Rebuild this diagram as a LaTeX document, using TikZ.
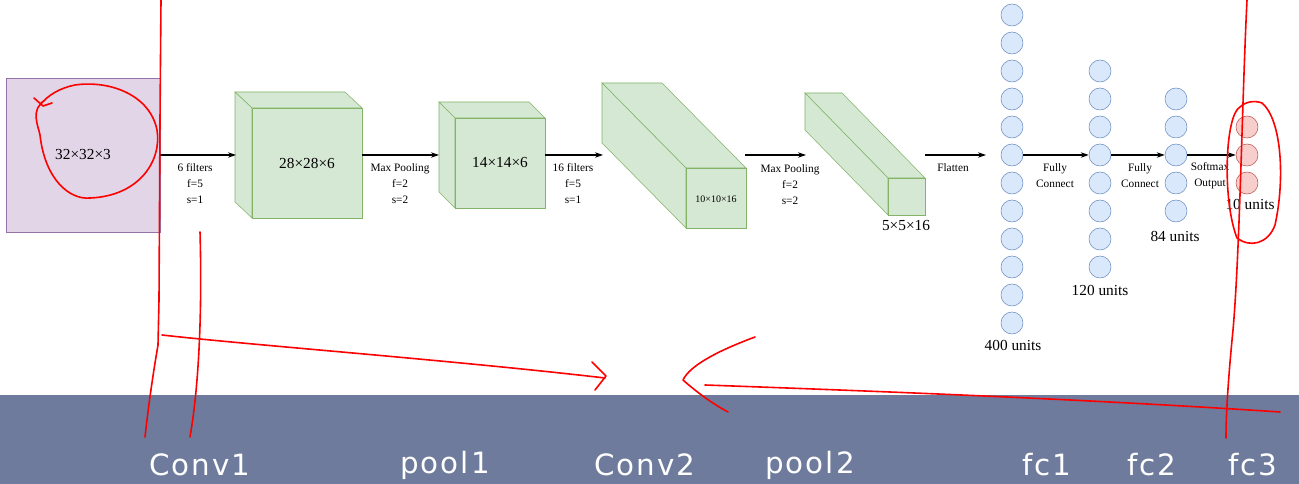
\documentclass[tikz,border=0pt]{standalone}
\usepackage{fontspec}
\setmainfont{Liberation Serif}
\newfontfamily\lblsans{DejaVu Sans}[LetterSpace=7]
\usetikzlibrary{arrows.meta}
\definecolor{gfill}{HTML}{D5E8D4}\definecolor{gdraw}{HTML}{82B366}
\definecolor{bfill}{HTML}{DAE8FC}\definecolor{bdraw}{HTML}{6C8EBF}
\definecolor{rfill}{HTML}{F8CECC}\definecolor{rdraw}{HTML}{B85450}
\definecolor{pfill}{HTML}{E1D5E7}\definecolor{pdraw}{HTML}{9673A6}
\definecolor{band}{HTML}{6E7B9C}
\newcommand\mybox[6]{% x1 y1 x2 y2 dx dy (front rect, back offset)
  \draw[gdraw,fill=gfill] (#1,#2) -- ++(-#5,-#6) -- (#3-#5,#2-#6) -- (#3,#2) -- cycle;
  \draw[gdraw,fill=gfill] (#1,#2) -- ++(-#5,-#6) -- (#1-#5,#4-#6) -- (#1,#4) -- cycle;
  \draw[gdraw,fill=gfill] (#1,#2) rectangle (#3,#4);}
\tikzset{
  arr/.style={-{Stealth[length=6pt,width=4pt]},line width=0.8pt},
  sm/.style={font=\fontsize{8.5}{9}\selectfont,align=center},
  md/.style={font=\fontsize{11.5}{12}\selectfont},
  unit/.style={circle,minimum size=16.5pt,inner sep=0pt,draw=bdraw,fill=bfill},
  outu/.style={circle,minimum size=16.5pt,inner sep=0pt,draw=rdraw,fill=rfill},
  bl/.style={font=\lblsans\fontsize{22}{24}\selectfont,text=white},
  pen/.style={red,line width=1.2pt,line cap=round,line join=round}
}
\begin{document}
\begin{tikzpicture}[x=0.75pt,y=-0.75pt]
\useasboundingbox (0,0) rectangle (1299,484);
\fill[white] (0,0) rectangle (1299,484);
% input
\node[draw=pdraw,fill=pfill,minimum width=115.5pt,minimum height=115.5pt,inner sep=0pt,md] (in) at (83,155) {32×32×3};
% boxes
\mybox{252}{108}{362}{218}{17}{16}
\node[md] (c1) at (307,163) {28×28×6};
\mybox{455}{118}{545}{208}{16}{16}
\node[md] (p1) at (500,163) {14×14×6};
\mybox{686}{168}{746}{228}{84}{85}
\node[font=\fontsize{7.5}{8}\selectfont] (c2) at (716,199) {10×10×16};
\mybox{888}{178}{925}{215}{83}{85}
\node[md] (p2) at (906,226) {5×5×16};
% arrows
\coordinate (a0) at (160,155); \coordinate (a1) at (236,155);
\coordinate (b0) at (362,155); \coordinate (b1) at (439,155);
\coordinate (d0) at (545,155); \coordinate (d1) at (603,155);
\coordinate (e0) at (745,155); \coordinate (e1) at (806,155);
\coordinate (g0) at (925,155); \coordinate (g1) at (986,155);
\draw[arr] (a0) -- (a1); \draw[arr] (b0) -- (b1); \draw[arr] (d0) -- (d1);
\draw[arr] (e0) -- (e1); \draw[arr] (g0) -- (g1);
\node[sm] (t1) at (195,184) {6 filters\\[3pt]f=5\\[3pt]s=1};
\node[sm] (t2) at (400,184) {Max Pooling\\[3pt]f=2\\[3pt]s=2};
\node[sm] (t3) at (573,184) {16 filters\\[3pt]f=5\\[3pt]s=1};
\node[sm] (t4) at (790,185) {Max Pooling\\[3pt]f=2\\[3pt]s=2};
\node[sm] (t5) at (953,168) {Flatten};
% units
\foreach \i in {0,...,11} \node[unit] (u\i) at (1012,15+28*\i) {};
\foreach \i in {0,...,7} \node[unit] (v\i) at (1100,71+28*\i) {};
\foreach \i in {0,...,4} \node[unit] (w\i) at (1176,99+28*\i) {};
\foreach \i in {0,...,2} \node[outu] (o\i) at (1247,127+28*\i) {};
\draw[arr] (u5) -- (v3); \draw[arr] (v3) -- (w2); \draw[arr] (w2) -- (o1);
\node[sm] at (1055,176) {Fully\\[3pt]Connect};
\node[sm] at (1140,176) {Fully\\[3pt]Connect};
\node[sm] at (1210,176) {Softmax\\[3pt]Output};
\node[md] at (1013,345) {400 units};
\node[md] at (1100,290) {120 units};
\node[md] at (1175,236) {84 units};
\node[md] at (1250,204) {10 units};
% band
\fill[band] (0,395) rectangle (1299,484);
\node[bl] at (200,465) {Conv1};
\node[bl] at (445,465) {pool1};
\node[bl] at (645,465) {Conv2};
\node[bl] at (810,465) {pool2};
\node[bl] at (1047,465) {fc1};
\node[bl] at (1152,465) {fc2};
\node[bl] at (1253,465) {fc3};
% annotations
\draw[pen] (161,0) -- (160,120) -- (159,300) -- (158,345) .. controls (152,380) and (148,410) .. (145,437);
\draw[pen] (200,232) .. controls (202,300) and (200,380) .. (190,437);
\draw[pen] (45,100) .. controls (30,110) and (38,125) .. (40,135) .. controls (45,180) and (70,200) .. (90,198) .. controls (140,196) and (162,160) .. (157,130) .. controls (150,95) and (110,80) .. (75,85) .. controls (60,88) and (48,95) .. (40,105) (34,98) -- (43,106) -- (52,103);
\draw[pen] (162,335) .. controls (250,345) and (450,360) .. (605,378);
\draw[pen] (592,362) -- (606,376) -- (595,390);
\draw[pen] (755,337) .. controls (720,350) and (690,365) .. (683,380) .. controls (700,395) and (715,405) .. (728,412);
\draw[pen] (705,385) .. controls (900,392) and (1100,400) .. (1280,412);
\draw[pen] (1247,0) .. controls (1242,100) and (1240,250) .. (1233,330) .. controls (1229,370) and (1226,410) .. (1226,438);
\draw[pen] (1240,107) .. controls (1225,115) and (1222,200) .. (1237,238) .. controls (1250,248) and (1268,244) .. (1275,225) .. controls (1285,180) and (1282,120) .. (1262,103) .. controls (1254,100) and (1245,102) .. (1240,107);
\end{tikzpicture}
\end{document}
